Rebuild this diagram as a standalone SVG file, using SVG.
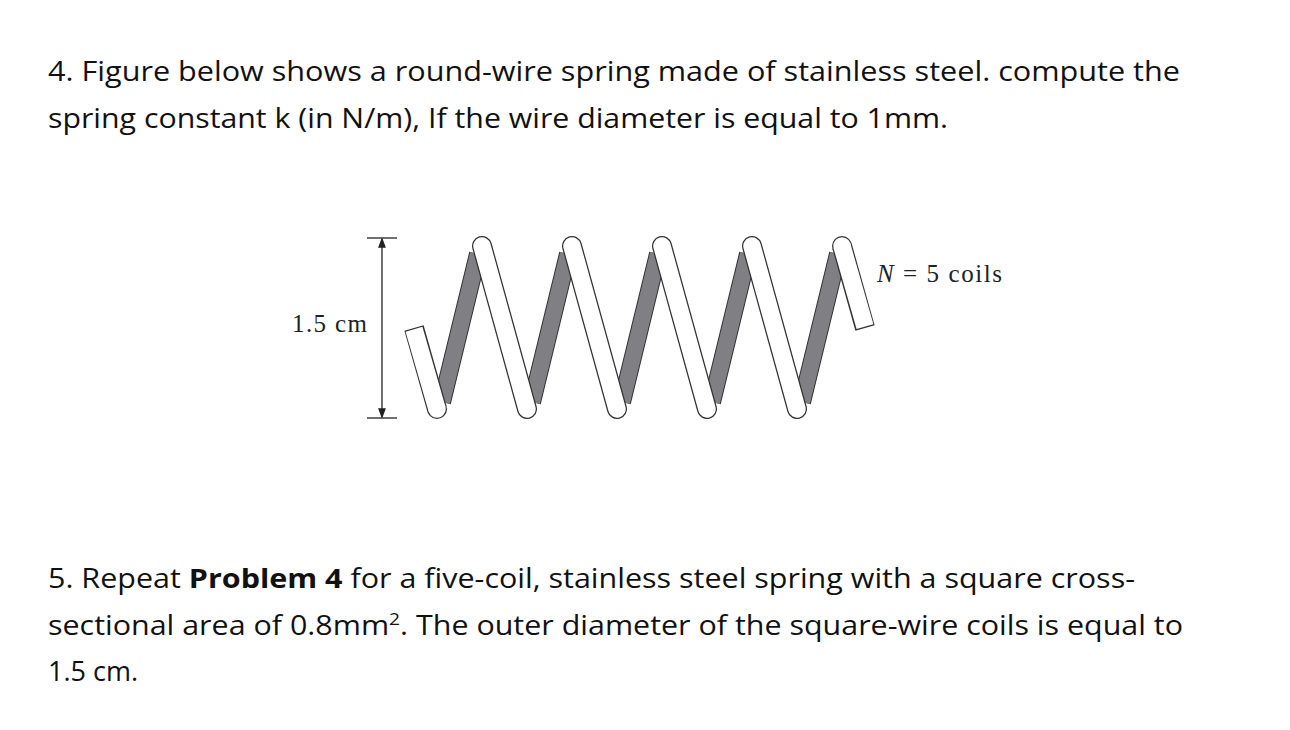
<svg xmlns="http://www.w3.org/2000/svg" width="1290" height="730" viewBox="0 0 1290 730">
<style>
.t{font-family:"Open Sans","Liberation Sans",sans-serif;font-size:27px;fill:#111}
.s{font-family:"Liberation Serif",serif;font-size:25px;fill:#222}
.ow{stroke:#333;stroke-width:20;fill:none}
.iw{stroke:#fff;stroke-width:17.5;fill:none}
.g{stroke:#333;stroke-width:18;fill:none}
.gi{stroke:#808084;stroke-width:16;fill:none}
</style>
<rect width="1290" height="730" fill="#fff"/>
<text class="t" x="48" y="81" textLength="1132" lengthAdjust="spacingAndGlyphs">4.  Figure below shows a round-wire spring made of stainless steel. compute the</text>
<text class="t" x="48" y="128" textLength="900" lengthAdjust="spacingAndGlyphs">spring constant k (in N/m), If the wire diameter is equal to 1mm.</text>
<text class="t" x="48" y="588" textLength="1087" lengthAdjust="spacingAndGlyphs">5.  Repeat <tspan font-weight="bold">Problem 4</tspan> for a five-coil, stainless steel spring with a square cross-</text>
<text class="t" x="48" y="635" textLength="1135" lengthAdjust="spacingAndGlyphs">sectional area of 0.8mm<tspan font-size="17" dy="-10">2</tspan><tspan dy="10">. The outer diameter of the square-wire coils is equal to</tspan></text>
<text class="t" x="48" y="681">1.5 cm.</text>
<g id="dimension" stroke="#222" stroke-width="1.3">
<line x1="367" y1="238" x2="397" y2="238"/>
<line x1="367" y1="418" x2="397" y2="418"/>
<line x1="382" y1="246" x2="382" y2="410"/>
<path d="M382,239 l-3,8 h6z M382,417 l-3,-8 h6z" fill="#222"/>
</g>
<text class="s" x="292" y="332" textLength="75">1.5 cm</text>
<text class="s" x="877" y="282" textLength="125"><tspan font-style="italic">N</tspan> = 5 coils</text>
<g id="spring">
<g id="back">
<path class="g" d="M442,402 L478,254 M532,402 L568,254 M622,402 L658,254 M712,402 L748,254 M802,402 L838,254"/>
<path class="gi" d="M442,402 L478,254 M532,402 L568,254 M622,402 L658,254 M712,402 L748,254 M802,402 L838,254"/>
</g>
<g id="front">
<path class="ow" d="M414,328 L437,409" stroke-linecap="butt"/>
<path class="ow" stroke-linecap="round" d="M437,409 L437,409 M482,246 L527,409 M572,246 L617,409 M662,246 L707,409 M752,246 L797,409"/>
<path class="ow" d="M842,246 L865,328" stroke-linecap="butt"/>
<circle cx="842" cy="246" r="10" fill="#333"/>
<path class="iw" d="M414,329.3 L437,409" stroke-linecap="butt"/>
<path class="iw" stroke-linecap="round" d="M437,409 L437,409 M482,246 L527,409 M572,246 L617,409 M662,246 L707,409 M752,246 L797,409"/>
<path class="iw" d="M842,246 L865,326.7" stroke-linecap="butt"/>
<circle cx="842" cy="246" r="8.75" fill="#fff"/>
</g>
</g>
</svg>
